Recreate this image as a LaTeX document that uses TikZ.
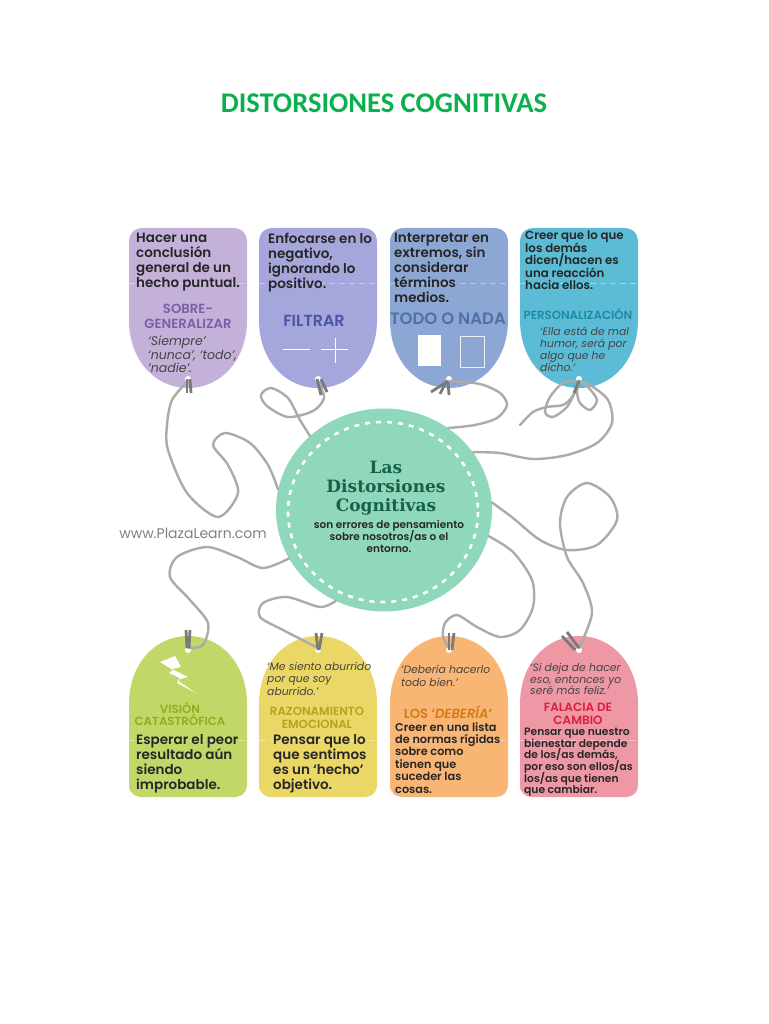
\documentclass[tikz,border=0pt]{standalone}
\usepackage{fontspec}
\setmainfont{Poppins}[BoldFont={Poppins SemiBold}]
\newfontfamily\titlefont{Carlito}
\newfontfamily\serifhead{DejaVu Serif}
\usetikzlibrary{shapes.geometric}
\newcommand{\tightlines}{\lineskiplimit=-20pt\relax}
\definecolor{tagpurple}{HTML}{C3B1D9}
\definecolor{tagindigo}{HTML}{A5A6DC}
\definecolor{tagblue}{HTML}{8CA7D3}
\definecolor{tagcyan}{HTML}{5CBBD5}
\definecolor{taglime}{HTML}{C1D868}
\definecolor{tagyellow}{HTML}{EAD765}
\definecolor{tagorange}{HTML}{F9B574}
\definecolor{tagrose}{HTML}{EE97A5}
\definecolor{hubgreen}{HTML}{8FD8BC}
\definecolor{hubdark}{HTML}{17614A}
\definecolor{stringgray}{HTML}{ABABAB}
\definecolor{peggray}{HTML}{7A7A7A}
\definecolor{quotegray}{HTML}{444444}

\begin{document}
\begin{tikzpicture}[
        x=1pt, y=-1pt,
        toptag/.pic={
            \fill[pic actions] (0,15) .. controls (0,5) and (5,0) .. (15,0) -- (103,0) .. controls (113,0) and (118,5) .. (118,15) -- (118,92) .. controls (118,132) and (92,160) .. (59,160) .. controls (26,160) and (0,132) .. (0,92) -- cycle;
            \draw[white, opacity=0.4, line width=1pt, dash pattern=on 6pt off 4pt] (0,55) -- (118,55);
            \fill[white] (59,151) circle (3);
            \coordinate (-hole) at (59,153);
        },
        bottomtag/.pic={
            \fill[pic actions] (0,161) -- (0,68) .. controls (0,28) and (26,0) .. (59,0) .. controls (92,0) and (118,28) .. (118,68) -- (118,149) .. controls (118,156) and (113,161) .. (106,161) -- (12,161) .. controls (5,161) and (0,156) .. (0,149) -- cycle;
            \draw[white, opacity=0.4, line width=1pt, dash pattern=on 6pt off 4pt] (0,104) -- (118,104);
            \fill[white] (59,14) circle (3);
            \coordinate (-hole) at (59,12);
        },
        hub/.style={ellipse, fill=hubgreen, minimum width=216, minimum height=203, inner sep=0},
        string/.style={line width=2.4pt, stringgray, line cap=round},
        peg/.style={line width=2.8pt, peggray},
        body/.style={inner sep=0, anchor=north west, align=left, text=black!85, font=\fontsize{13.5}{15}\selectfont\bfseries\tightlines},
        bodysmall/.style={body, font=\fontsize{11.8}{12.4}\selectfont\bfseries\tightlines},
        quotetext/.style={inner sep=0, anchor=north west, align=left, text=quotegray, font=\fontsize{10.8}{12.4}\selectfont\itshape\tightlines},
        heading/.style={inner sep=0, align=center, font=\fontsize{11.8}{12.4}\selectfont\bfseries\tightlines}
    ]
    \useasboundingbox (0,0) rectangle (768,1024);
    \fill[white] (0,0) rectangle (768,1024);

    \node[text={rgb,255:red,11;green,176;blue,78}, font=\fontsize{28.5}{34}\selectfont\titlefont\bfseries] (title) at (384,103) {DISTORSIONES COGNITIVAS};

    % Top row of tags
    \pic[fill=tagpurple] (tag1) at (129,228) {toptag};
    \pic[fill=tagindigo] (tag2) at (259,228) {toptag};
    \pic[fill=tagblue] (tag3) at (390,228) {toptag};
    \pic[fill=tagcyan] (tag4) at (520,228) {toptag};

    % Bottom row of tags
    \pic[fill=taglime] (tag5) at (129,636) {bottomtag};
    \pic[fill=tagyellow] (tag6) at (259,636) {bottomtag};
    \pic[fill=tagorange] (tag7) at (390,636) {bottomtag};
    \pic[fill=tagrose] (tag8) at (520,636) {bottomtag};

    % Centre circle
    \node[hub] (center) at (384,510) {};
    \draw[white, line width=2.6pt, dash pattern=on 5pt off 6pt] (383,512) ellipse (95 and 90);
    \node[inner sep=0, align=center, text=hubdark, font=\fontsize{17}{19}\selectfont\serifhead\bfseries] (hubtitle) at (386,488) {Las\\Distorsiones\\Cognitivas};
    \node[inner sep=0, align=center, text=black!85, font=\fontsize{10.5}{12}\selectfont\bfseries\tightlines] (hubtext) at (389,536) {son errores de pensamiento\\sobre nosotros/as o el\\entorno.};

    % Strings
    \draw[string] plot[smooth] coordinates {(tag1-hole) (172,400) (167,425) (168,450) (187,493) (218,517) (238,493) (228,465) (213,445) (225,433) (250,443) (268,465) (center.169)};
    \draw[string] plot[smooth] coordinates {(tag2-hole) (324,398) (313,411) (288,417) (267,406) (261,395) (271,388) (288,398) (300,420) (center.135)};
    \draw[string] plot[smooth] coordinates {(tag3-hole) (480,384) (500,393) (507,405) (497,418) (475,425) (center.52)};
    \draw[string] plot[smooth] coordinates {(center.33) (500,453) (533,459) (567,455) (597,443) (612,423) (608,400) (590,385) (tag4-hole)};
    \draw[string] plot[smooth] coordinates {(tag4-hole) (577,392) (580,403) (590,410) (597,400) (588,387) (tag4-hole)};
    \coordinate (loose) at (520,425);
    \draw[string] plot[smooth] coordinates {(tag4-hole) (563,383) (550,397) (545,412) (553,417) (567,407) (575,392)};
    \draw[string] plot[smooth] coordinates {(loose) (533,412) (547,407) (563,405) (572,397) (tag4-hole)};
    \draw[string] plot[smooth] coordinates {(center.207) (263,568) (237,557) (207,547) (177,557) (170,577) (190,600) (208,623) (203,645) (tag5-hole)};
    \draw[string] plot[smooth] coordinates {(center.242) (320,607) (287,597) (263,603) (260,617) (283,630) (tag6-hole)};
    \draw[string] plot[smooth] coordinates {(center.-14) (513,552) (532,580) (533,607) (520,630) (500,637) (477,627) (457,615) (445,623) (443,637) (tag7-hole)};
    \draw[string] plot[smooth] coordinates {(center.4) (513,518) (540,540) (567,550) (597,545) (617,520) (610,497) (587,483) (567,497) (560,523) (567,557) (583,583) (592,613) (tag8-hole)};

    % Pegs
    \draw[peg] (tag1-hole) ++(-1,-2) -- ++(0,14);
    \draw[peg] (tag1-hole) ++(2,-2) -- ++(1,14);
    \draw[peg] (tag2-hole) ++(-1,-2) -- ++(4,16);
    \draw[peg] (tag2-hole) ++(3,-2) -- ++(6,13);
    \draw[peg] (tag3-hole) ++(-1,0) -- ++(-17,11);
    \draw[peg] (tag3-hole) ++(-3,1) -- ++(-6,12);
    \draw[peg] (tag3-hole) ++(-1,1) -- ++(1,13);
    \draw[peg] (tag4-hole) -- ++(-5,12);
    \draw[peg] (tag5-hole) ++(-2,-18) -- ++(1,18);
    \draw[peg] (tag5-hole) ++(2,-18) -- ++(-1,18);
    \draw[peg] (tag6-hole) ++(-2,-15) -- ++(2,17);
    \draw[peg] (tag6-hole) ++(4,-15) -- ++(-3,17);
    \draw[peg] (tag7-hole) ++(0,-15) -- ++(0,17);
    \draw[peg] (tag7-hole) ++(5,-15) -- ++(-2,17);
    \draw[peg] (tag8-hole) -- ++(-12,-16);
    \draw[peg] (tag8-hole) ++(-4,2) -- ++(-13,-14);

    % Text of the top tags
    \node[body] (text1) at (136,232.5) {Hacer una\\conclusión\\general de un\\hecho puntual.};
    \node[heading, text={rgb,255:red,123;green,94;blue,168}, font=\fontsize{13.2}{15}\selectfont\bfseries\tightlines] (head1) at (188,316) {SOBRE-\\GENERALIZAR};
    \node[quotetext, font=\fontsize{12.5}{13.6}\selectfont\itshape\tightlines] (quote1) at (148,336) {‘Siempre’\\‘nunca’, ‘todo’,\\‘nadie’.};

    \node[body] (text2) at (268,232.5) {Enfocarse en lo\\negativo,\\ignorando lo\\positivo.};
    \node[heading, text={rgb,255:red,74;green,85;blue,168}, font=\fontsize{16}{18}\selectfont\bfseries] (head2) at (314,321) {FILTRAR};
    \draw[white, line width=1pt] (283,349) -- (310,349);
    \draw[white, line width=1pt] (321,349) -- (348,349);
    \draw[white, line width=1pt] (335,338) -- (335,363);

    \node[body] (text3) at (394,232.5) {Interpretar en\\extremos, sin\\considerar\\términos\\medios.};
    \node[heading, text={rgb,255:red,79;green,113;blue,168}, font=\fontsize{16.5}{18}\selectfont\bfseries] (head3) at (448,319) {TODO O NADA};
    \fill[white] (418,335) rectangle (441,366);
    \draw[white!85!tagblue, line width=1pt] (460,336) rectangle (484,367);

    \node[bodysmall] (text4) at (525,231) {Creer que lo que\\los demás\\dicen/hacen es\\una reacción\\hacia ellos.};
    \node[heading, text={rgb,255:red,30;green,138;blue,165}] (head4) at (578,314) {PERSONALIZACIÓN};
    \node[quotetext, font=\fontsize{10.8}{11.8}\selectfont\itshape\tightlines] (quote4) at (540,327) {‘Ella está de mal\\humor, será por\\algo que he\\dicho.’};

    % Text of the bottom tags
    \fill[white] (160,662) -- (175,656) -- (181,667) -- (172,669) -- (188,677) -- (177,680) -- (196,693) -- (177,683) -- (180,678) -- (169,673) -- (173,670) -- cycle;
    \node[heading, text={rgb,255:red,143;green,174;blue,30}] (head5) at (180,714) {VISIÓN\\CATASTRÓFICA};
    \node[body] (text5) at (136,734) {Esperar el peor\\resultado aún\\siendo\\improbable.};

    \node[quotetext] (quote6) at (267,662) {‘Me siento aburrido\\por que soy\\aburrido.’};
    \node[heading, text={rgb,255:red,185;green,161;blue,31}] (head6) at (317,718) {RAZONAMIENTO\\EMOCIONAL};
    \node[body] (text6) at (273,734) {Pensar que lo\\que sentimos\\es un ‘hecho’\\objetivo.};

    \node[quotetext] (quote7) at (401,665) {‘Debería hacerlo\\todo bien.’};
    \node[heading, text={rgb,255:red,212;green,122;blue,21}, font=\fontsize{13.2}{15}\selectfont\bfseries] (head7) at (448,712) {LOS ‘\textit{DEBERÍA}’};
    \node[bodysmall, font=\fontsize{11.3}{12.4}\selectfont\bfseries\tightlines] (text7) at (395,722) {Creer en una lista\\de normas rígidas\\sobre como\\tienen que\\suceder las\\cosas.};

    \node[quotetext, font=\fontsize{10.8}{11.7}\selectfont\itshape\tightlines] (quote8) at (530,663) {‘Si deja de hacer\\eso, entonces yo\\seré más feliz.’};
    \node[heading, text={rgb,255:red,216;green,33;blue,60}, font=\fontsize{12}{13}\selectfont\bfseries\tightlines] (head8) at (578,714) {FALACIA DE\\CAMBIO};
    \node[bodysmall, font=\fontsize{10.7}{11.6}\selectfont\bfseries\tightlines] (text8) at (524,728) {Pensar que nuestro\\bienestar depende\\de los/as demás,\\por eso son ellos/as\\los/as que tienen\\que cambiar.};

    \node[inner sep=0, text=black!50, font=\fontsize{14}{16}\selectfont] (site) at (193,533) {www.PlazaLearn.com};
\end{tikzpicture}
\end{document}
